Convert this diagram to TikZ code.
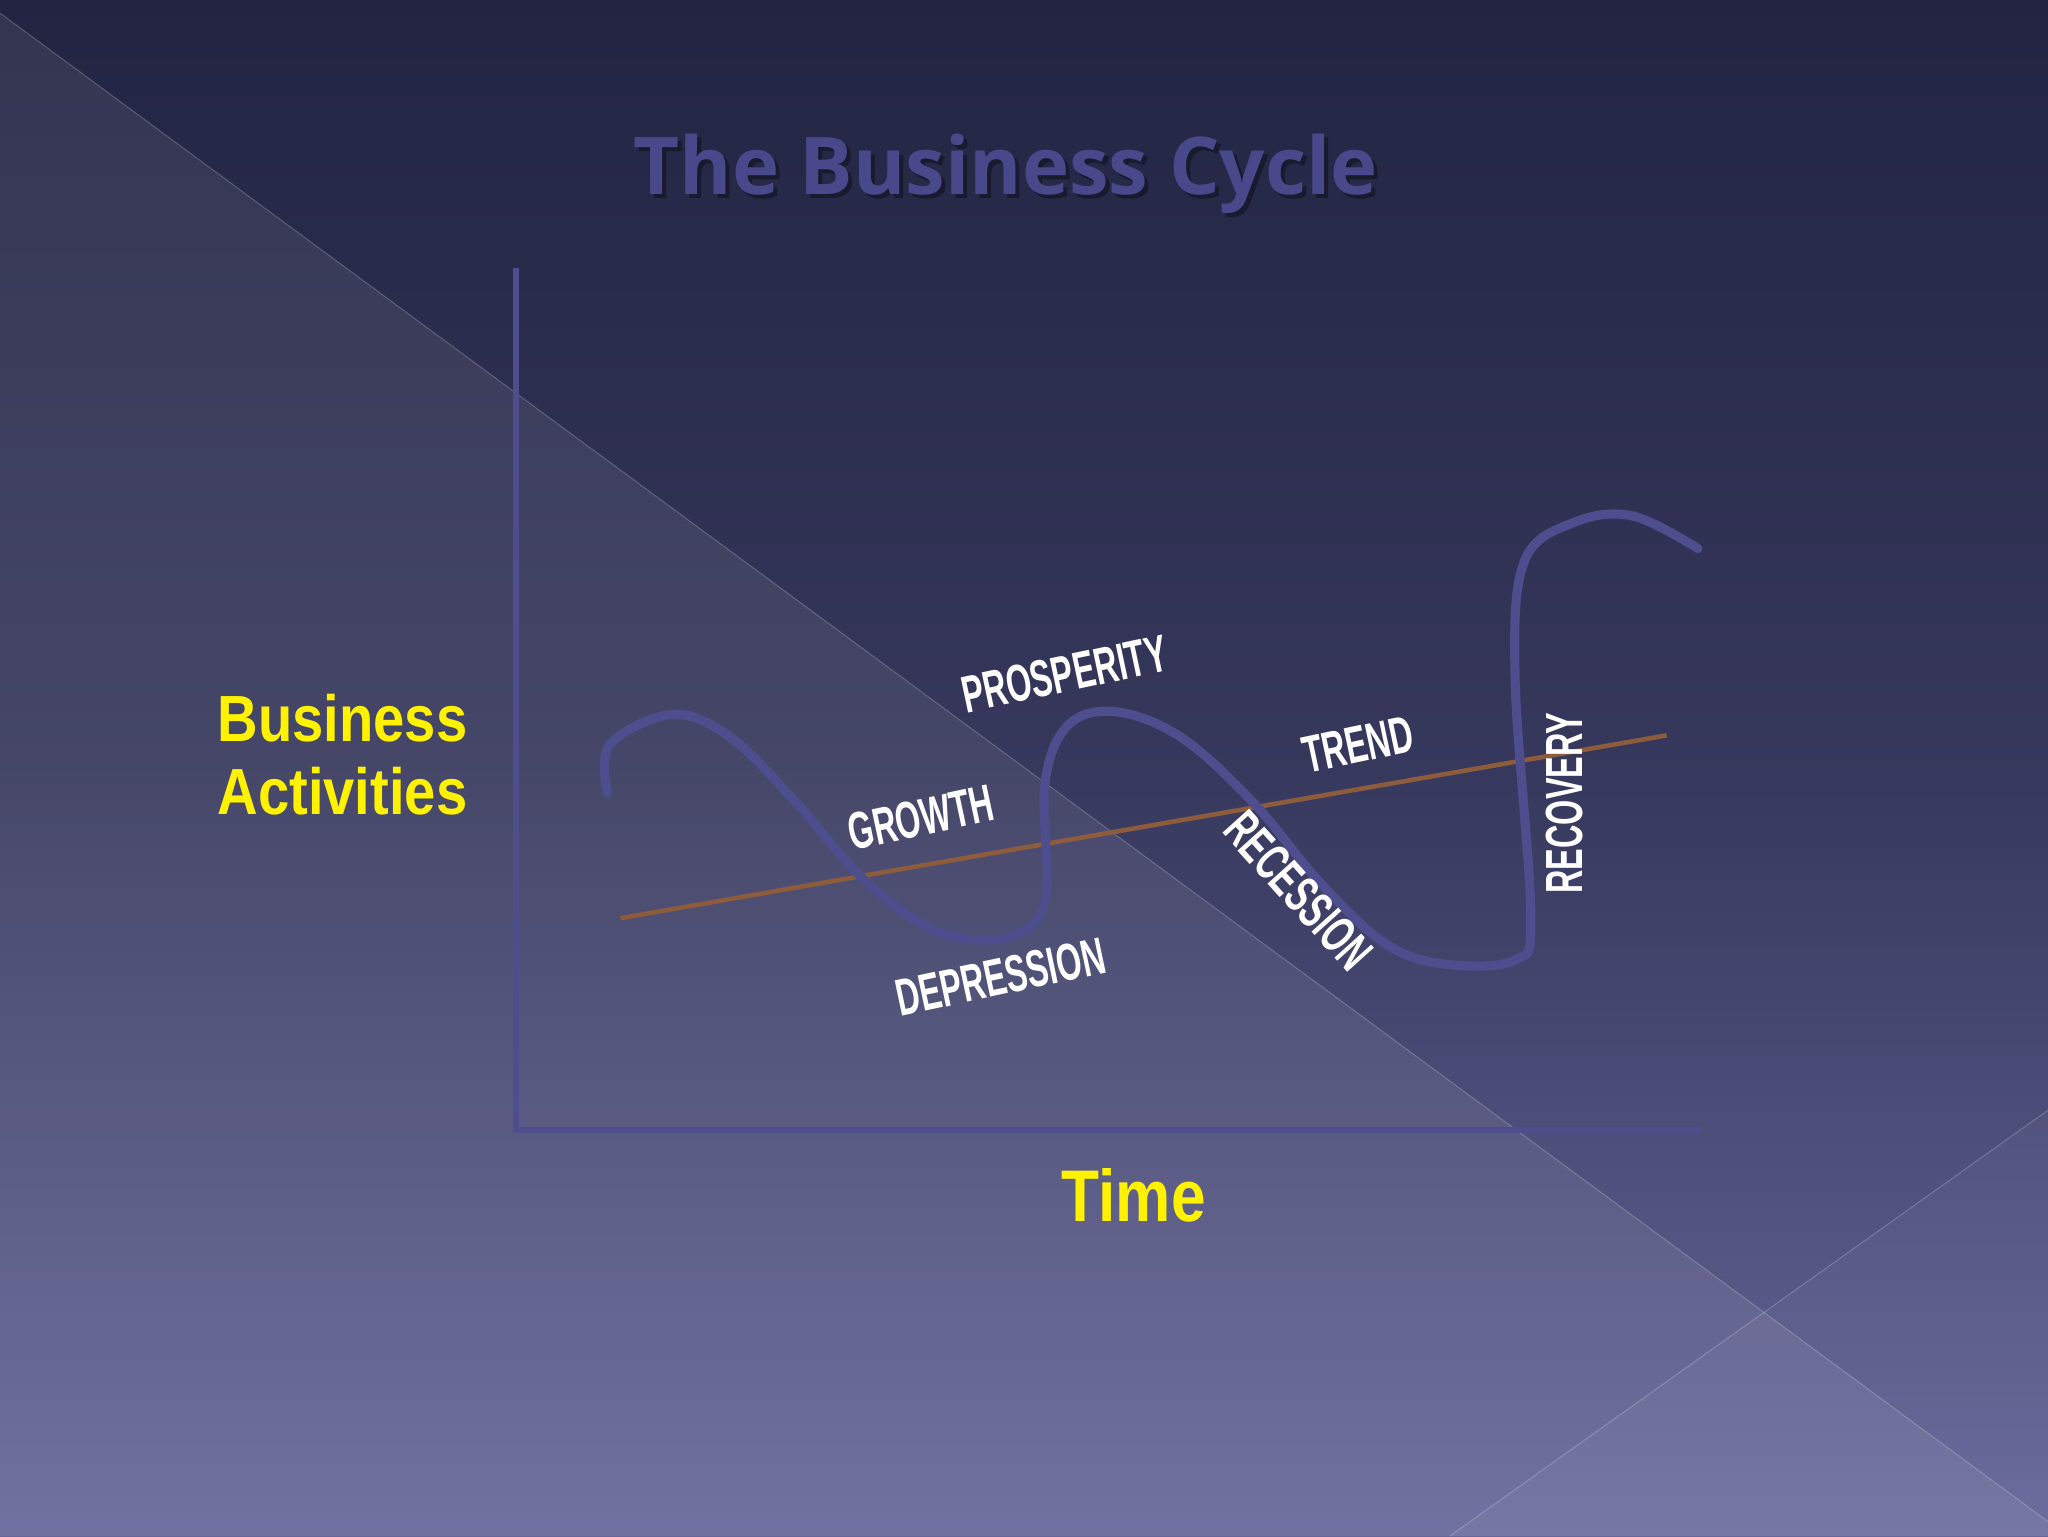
\documentclass[tikz,border=0pt]{standalone}
\usepackage{fontspec}
\setmainfont{Liberation Sans}
\newfontfamily\titlefont{Open Sans}
\definecolor{bgtop}{HTML}{222442}
\definecolor{bgbot}{HTML}{66669A}
\definecolor{axis}{HTML}{4E4E8E}
\definecolor{trend}{HTML}{8C5C3C}
\definecolor{titlec}{HTML}{48488A}
\newcommand{\cond}[1]{\scalebox{0.62}[1]{#1}}
\tikzset{
  lbl/.style={text=white,font=\bfseries\fontsize{40}{40}\selectfont,inner sep=0},
  ylab/.style={text=yellow,font=\bfseries\fontsize{50}{56}\selectfont,inner sep=0}
}
\begin{document}
\begin{tikzpicture}[x=1pt,y=-1pt]
\useasboundingbox (0,0) rectangle (1568,1176);
\shade[top color=bgtop,bottom color=bgbot,middle color=bgtop!70!bgbot] (0,0) rectangle (1568,1176);
\fill[white,opacity=0.08] (0,10) -- (1568,1165) -- (1568,1176) -- (0,1176) -- cycle;
\fill[white,opacity=0.04] (1110,1176) -- (1568,850) -- (1568,1176) -- cycle;
\coordinate (d1) at (0,10); \coordinate (d2) at (1568,1165);
\coordinate (e1) at (1110,1176); \coordinate (e2) at (1568,850);
\draw[white,opacity=0.2,line width=0.8] (d1) -- (d2);
\draw[white,opacity=0.2,line width=0.8] (e1) -- (e2);
\node[text=black,opacity=0.35,font=\titlefont\bfseries\fontsize{61}{61}\selectfont] at (773,136) {The Business Cycle};
\node (title)[text=titlec,font=\titlefont\bfseries\fontsize{61}{61}\selectfont] at (770,133) {The Business Cycle};
\coordinate (o) at (395,865); \coordinate (ytop) at (395,205); \coordinate (xend) at (1302,865);
\draw[axis,line width=5] (ytop) -- (o) -- (xend);
\coordinate (t1) at (475,703); \coordinate (t2) at (1276,563);
\draw[trend,line width=3.5] (t1) -- (t2);
\draw[axis,line width=7,line cap=round] plot[smooth,tension=0.6] coordinates {
(465,607) (467,570) (515,547) (560,565) (610,615) (660,672) (715,712) (770,718) (800,690) (800,600) (818,555) (855,545) (905,565) (960,615) (1010,675) (1060,722) (1105,738) (1160,735) (1172,700) (1160,520) (1167,430) (1205,400) (1250,395) (1300,420)};
\node[lbl,rotate=12] (pros) at (815,516) {\cond{PROSPERITY}};
\node[lbl,rotate=12] (grow) at (705,626) {\cond{GROWTH}};
\node[lbl,rotate=12] (dep) at (766,748) {\cond{DEPRESSION}};
\node[lbl,rotate=12] (tr) at (1040,570) {\cond{TREND}};
\node[lbl,rotate=-48] (rec) at (994,682) {\cond{RECESSION}};
\node[lbl,rotate=90] (recov) at (1198,615) {\cond{RECOVERY}};
\node[ylab,align=right,anchor=east] (ba) at (358,578) {\scalebox{0.86}[1]{Business}\\\scalebox{0.86}[1]{Activities}};
\node[ylab,font=\bfseries\fontsize{56}{56}\selectfont] (time) at (868,915) {\scalebox{0.85}[1]{Time}};
\end{tikzpicture}
\end{document}
